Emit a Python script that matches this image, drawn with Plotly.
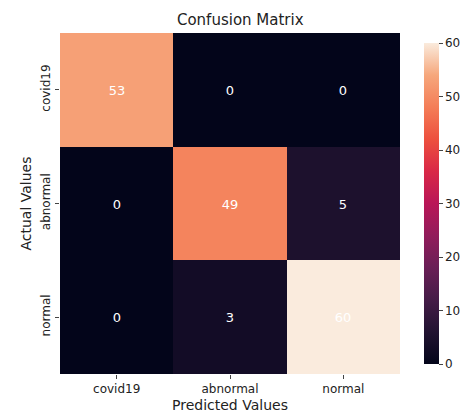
import plotly.graph_objects as go

labels = ['covid19', 'abnormal', 'normal']
matrix = [[53, 0, 0],
          [0, 49, 5],
          [0, 3, 60]]

rocket = [[0.0, '#03051A'], [0.1, '#221331'], [0.2, '#451C47'], [0.3, '#6A1F56'],
          [0.4, '#921C5B'], [0.5, '#B91657'], [0.6, '#D92847'], [0.7, '#ED503E'],
          [0.8, '#F47D57'], [0.9, '#F6A77C'], [1.0, '#FAEBDD']]

fig = go.Figure(go.Heatmap(
    z=matrix, x=labels, y=labels, colorscale=rocket, zmin=0, zmax=60,
    text=[[str(v) for v in row] for row in matrix], texttemplate='%{text}',
    textfont=dict(color='white', size=13),
    colorbar=dict(thickness=15, len=1, x=1.04, xanchor='left', y=0.5, yanchor='middle',
                  tickvals=[0, 10, 20, 30, 40, 50, 60], ticks='outside', ticklen=4,
                  outlinewidth=0, tickfont=dict(size=12))
))

fig.update_layout(
    width=474, height=416,
    margin=dict(l=52, r=69, t=25, b=50),
    paper_bgcolor='white', plot_bgcolor='white',
    font=dict(family='DejaVu Sans', size=12, color='#222'),
    title=dict(text='Confusion Matrix', x=0.49, xanchor='center', y=0.985, yanchor='top',
               font=dict(size=15)),
)
fig.update_xaxes(title_text='Predicted Values', ticks='outside', ticklen=4, showgrid=False,
                 title_standoff=4)
fig.update_yaxes(title_text='Actual Values', autorange='reversed', tickangle=-90,
                 ticks='outside', ticklen=4, showgrid=False, title_standoff=4)

fig.write_html('out.html')
